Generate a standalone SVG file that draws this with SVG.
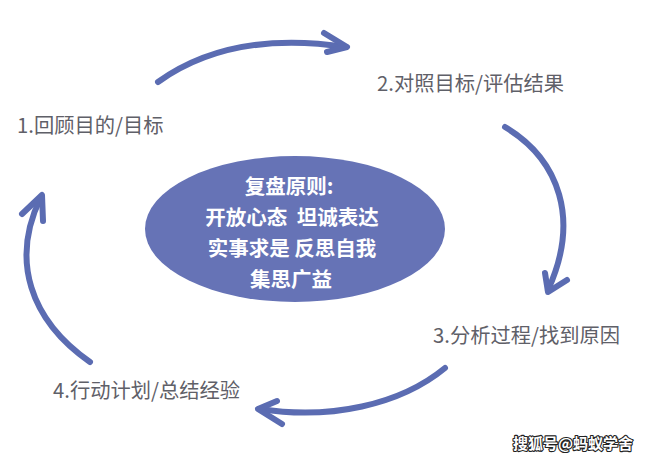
<svg xmlns="http://www.w3.org/2000/svg" width="652" height="461" viewBox="0 0 652 461">
<style>
.lbl{font-family:"Noto Sans CJK SC","Noto Sans",sans-serif;font-size:20.3px;fill:#5f6068}
.in{font-family:"Noto Sans CJK SC","Noto Sans",sans-serif;font-size:20.5px;font-weight:bold;fill:#ffffff;text-anchor:middle}
.arr{fill:none;stroke:#5b6cb2;stroke-width:6;stroke-linecap:round;stroke-linejoin:round}
.wm{font-family:"Noto Sans CJK SC","Noto Sans",sans-serif;font-size:15px;font-weight:bold;fill:#ffffff;stroke:#222;stroke-width:2.2;paint-order:stroke;stroke-linejoin:round}
</style>
<rect width="652" height="461" fill="#ffffff"/>
<g id="center">
<ellipse cx="295" cy="229" rx="150" ry="73" fill="#6673b6"/>
<text class="in" x="289" y="194">复盘原则:</text>
<text class="in" x="292" y="225" xml:space="preserve">开放心态  坦诚表达</text>
<text class="in" x="292" y="256">实事求是 反思自我</text>
<text class="in" x="291" y="287">集思广益</text>
</g>
<g id="step1"><text class="lbl" x="17" y="133">1.回顾目的/目标</text></g>
<g id="step2"><text class="lbl" x="377" y="91">2.对照目标/评估结果</text></g>
<g id="step3"><text class="lbl" x="433" y="343">3.分析过程/找到原因</text></g>
<g id="step4"><text class="lbl" x="53" y="398">4.行动计划/总结经验</text></g>
<g id="connectors">
<path class="arr" d="M158,82 C200,52 260,34 346,47"/>
<path class="arr" d="M324,33 L347,47 L327,52"/>
<path class="arr" d="M505,127 C560,160 580,220 548,290"/>
<path class="arr" d="M545,273 L548,292 L567,280"/>
<path class="arr" d="M445,368 C400,405 330,420 260,409"/>
<path class="arr" d="M277,401 L258,409 L282,424"/>
<path class="arr" d="M90,362 C30,320 10,260 41,197"/>
<path class="arr" d="M22,214 L42,195 L43,221"/>
</g>
<text class="wm" x="513" y="449">搜狐号@蚂蚁学舍</text>
</svg>
